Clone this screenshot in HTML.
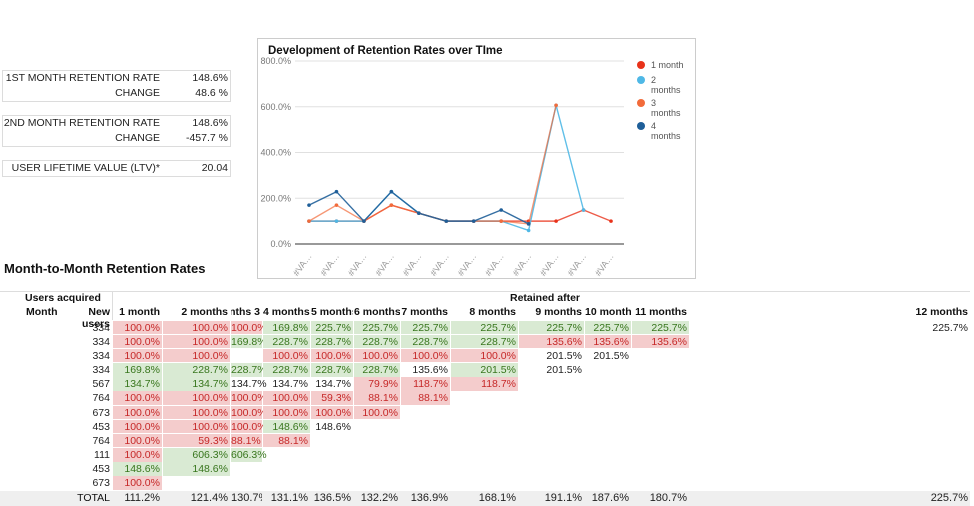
<!DOCTYPE html>
<html><head><meta charset="utf-8">
<style>
body{margin:0;width:974px;height:506px;background:#fff;font-family:"Liberation Sans",sans-serif;position:relative;overflow:hidden}
.abs{position:absolute}
.kbox{position:absolute;left:2px;width:227px;border:1px solid #dcdcdc;font-size:10.5px;color:#222}
.kr{position:relative;height:15px;line-height:15px}
.kl{position:absolute;right:70px;}
.kv{position:absolute;right:2px;}
.c{position:absolute;height:14px;line-height:14px;font-size:10.5px;text-align:right;box-sizing:border-box;padding-right:2px;color:#222}
.r{background:#f4cccc;color:#c62828}
.g{background:#d9ead3;color:#38761d}
.h{position:absolute;font-size:10.5px;font-weight:bold;color:#111;text-align:right;box-sizing:border-box;padding-right:2px}
</style></head><body>
<div class="kbox" style="top:70px">
 <div class="kr"><span class="kl">1ST MONTH RETENTION RATE</span><span class="kv">148.6%</span></div>
 <div class="kr"><span class="kl">CHANGE</span><span class="kv">48.6 %</span></div>
</div>
<div class="kbox" style="top:115px">
 <div class="kr"><span class="kl">2ND MONTH RETENTION RATE</span><span class="kv">148.6%</span></div>
 <div class="kr"><span class="kl">CHANGE</span><span class="kv">-457.7 %</span></div>
</div>
<div class="kbox" style="top:160px">
 <div class="kr"><span class="kl">USER LIFETIME VALUE (LTV)*</span><span class="kv">20.04</span></div>
</div>

<svg class="abs" style="left:0;top:0" width="974" height="290">
 <rect x="257.5" y="38.5" width="438" height="240" fill="#fff" stroke="#ccc"/>
 <text x="268" y="54" font-size="11.5" font-weight="bold" fill="#111">Development of Retention Rates over TIme</text>
 <g id="grid"></g><g id="lines"></g><g id="legend"></g>
</svg>

<div class="abs" style="left:4px;top:261px;font-size:13px;font-weight:bold;color:#111">Month-to-Month Retention Rates</div>
<div class="abs" style="left:0;top:291px;width:970px;height:1px;background:#ddd"></div>
<div class="abs" style="left:112px;top:291px;width:1px;height:29px;background:#ddd"></div>
<div class="h" style="left:25px;top:292px">Users acquired</div>
<div class="h" style="left:510px;top:292px">Retained after</div>
<div class="h" style="left:26px;top:306px">Month</div>
<div class="h" style="left:60px;top:306px;width:52px">New users</div>
<div class="abs" style="left:0;top:491px;width:970px;height:15px;background:#efefef"></div>
<div class="h" style="left:60px;top:491px;width:52px;font-weight:normal;line-height:15px">TOTAL</div>
<div id="tbl"></div>

<script>
const categories=["#VA…","#VA…","#VA…","#VA…","#VA…","#VA…","#VA…","#VA…","#VA…","#VA…","#VA…","#VA…"];
const seriesNames=["1 month","2 months","3 months","4 months"];
const m1=[100,100,100,169.8,134.7,100,100,100,100,100,148.6,100];
const m2=[100,100,100,228.7,134.7,100,100,100,59.3,606.3,148.6,null];
const m3=[100,169.8,100,169.8,134.7,100,100,100,88.1,606.3,null,null];
const m4=[169.8,228.7,100,228.7,134.7,100,100,148.6,88.1,null,null,null];
const yTicks=[0,200,400,600,800];
const NS="http://www.w3.org/2000/svg";
const X0=309,X1=611,Y0=244,Y1=61;
const xs=i=>X0+i*(X1-X0)/(categories.length-1);
const ys=v=>Y0-(v/800)*(Y0-Y1);
function mk(t,a,p){const e=document.createElementNS(NS,t);for(const k in a)e.setAttribute(k,a[k]);p.appendChild(e);return e;}
const grid=document.getElementById('grid');
yTicks.forEach(t=>{
 const l=mk('line',{x1:295,x2:624,y1:ys(t),y2:ys(t),stroke:t===0?'#999':'#e0e0e0','stroke-width':t===0?2:1},grid);
 
 
 const tx=mk('text',{x:291,y:ys(t)+3,'text-anchor':'end','font-size':9,fill:'#777'},grid);
 tx.textContent=t.toFixed(1)+'%';
 
 
});
categories.forEach((c,i)=>{
 const tx=mk('text',{x:xs(i)+3,y:256,'text-anchor':'end','font-size':9,fill:'#999',transform:`rotate(-55 ${xs(i)+3} 256)`},grid);
 tx.textContent=c;
 
 
});
const colors=["#e8321a","#4fb8e6","#f26b3a","#1f5f99"];
const opac=[0.8,0.9,0.7,0.9];
const lines=document.getElementById('lines');
[m1,m2,m3,m4].forEach((s,si)=>{
 let d='';
 s.forEach((v,i)=>{if(v==null)return;d+=(d?'L':'M')+xs(i)+' '+ys(v);});
 const p=mk('path',{d:d,fill:'none',stroke:colors[si],'stroke-width':1.4,'stroke-opacity':opac[si]},lines);
 
 
 s.forEach((v,i)=>{if(v==null)return;
  const c=mk('circle',{cx:xs(i),cy:ys(v),r:1.8,fill:colors[si]},lines);
  
  });
});
const lg=document.getElementById('legend');
const ly=[65,80,103,126];
seriesNames.forEach((n,i)=>{
 const c=mk('circle',{cx:641,cy:ly[i],r:4,fill:colors[i]},lg);
 
 
 const parts=n.split(' ');
 const t=mk('text',{x:651,y:ly[i]+3,'font-size':9,fill:'#555'},lg);
 
 
 if(i===0){t.textContent=n;}else{
  const a=mk('tspan',{x:651},t);a.textContent=parts[0];
  const b=mk('tspan',{x:651,dy:10},t);b.textContent=parts[1];}
});

// table
const colL=[113,163,231,263,311,354,401,451,519,585,632,690];
const colR=[162,230,262,310,353,400,450,518,584,631,689,970];
const heads=["1 month","2 months","3 months","4 months","5 months","6 months","7 months","8 months","9 months","10 months","11 months","12 months"];
const newUsers=[334,334,334,334,567,764,673,453,764,111,453,673];
const rows=[
"100.0r 100.0r 100.0r 169.8g 225.7g 225.7g 225.7g 225.7g 225.7g 225.7g 225.7g 225.7w",
"100.0r 100.0r 169.8g 228.7g 228.7g 228.7g 228.7g 228.7g 135.6r 135.6r 135.6r",
"100.0r 100.0r - 100.0r 100.0r 100.0r 100.0r 100.0r 201.5w 201.5w",
"169.8g 228.7g 228.7g 228.7g 228.7g 228.7g 135.6w 201.5g 201.5w",
"134.7g 134.7g 134.7w 134.7w 134.7w 79.9r 118.7r 118.7r",
"100.0r 100.0r 100.0r 100.0r 59.3r 88.1r 88.1r",
"100.0r 100.0r 100.0r 100.0r 100.0r 100.0r",
"100.0r 100.0r 100.0r 148.6g 148.6w",
"100.0r 59.3r 88.1r 88.1r",
"100.0r 606.3g 606.3g",
"148.6g 148.6g",
"100.0r"];
const totals=["111.2%","121.4%","130.7%","131.1%","136.5%","132.2%","136.9%","168.1%","191.1%","187.6%","180.7%","225.7%"];
const tbl=document.getElementById('tbl');
function div(cls,st,txt){const d=document.createElement('div');d.className=cls;Object.assign(d.style,st);d.textContent=txt;tbl.appendChild(d);return d;}
heads.forEach((h,i)=>{
 const d=div('h',{left:colL[i]+'px',top:'306px',width:(colR[i]-colL[i])+'px',whiteSpace:'nowrap',overflow:'hidden',direction:i===2?'rtl':'ltr'},h);
 
 
});
const RH=14.17;
newUsers.forEach((n,r)=>{
 const top=320.5+r*RH;
 const d=div('c',{left:'60px',top:top+'px',width:'52px'},String(n));
 
 
 rows[r].split(' ').forEach((tok,ci)=>{
  if(tok==='-')return;
  const cls=tok.slice(-1),val=tok.slice(0,-1)+'%';
  const e=div('c '+(cls==='w'?'':cls),{left:colL[ci]+'px',top:top+'px',width:(colR[ci]-colL[ci])+'px',height:'13.5px'},val);
  
  
 });
});
totals.forEach((t,i)=>{
 const e=div('c',{left:colL[i]+'px',top:'491px',width:(colR[i]-colL[i])+'px',height:'15px',lineHeight:'15px',fontSize:'11px',whiteSpace:'nowrap',overflow:'hidden'},t);
 
 
});
</script>
</body></html>
